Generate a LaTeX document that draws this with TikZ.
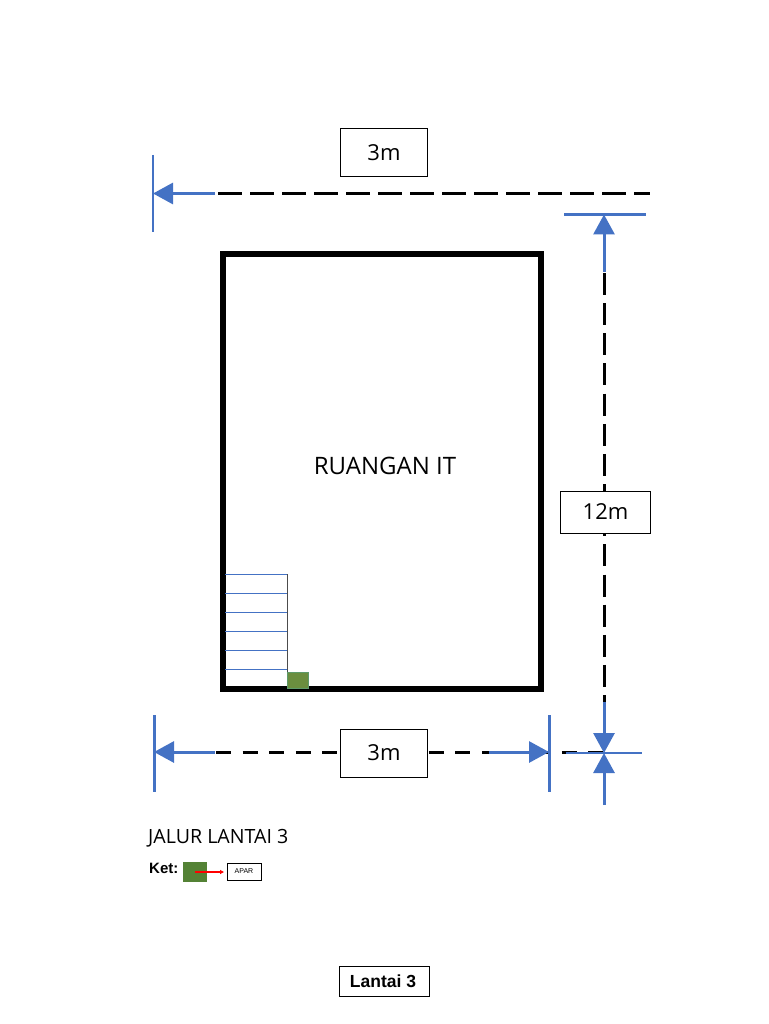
\documentclass[tikz,border=0pt]{standalone}
\usepackage{fontspec}
\setmainfont{Open Sans}
\newfontfamily\arialfont{Liberation Sans}
\usetikzlibrary{arrows.meta}
\definecolor{dimblue}{HTML}{4472C4}
\definecolor{aparfill}{HTML}{6B8E3F}
\definecolor{aparline}{HTML}{5E9A6A}
\definecolor{ketfill}{HTML}{548235}
\tikzset{
	dimbox/.style={draw,line width=1pt,fill=white,inner sep=0pt,font=\fontsize{22}{24}\selectfont},
	dimarrow/.style={draw=dimblue,line width=3pt,-{Triangle[length=20pt,width=21pt,fill=dimblue]}},
	dimtick/.style={draw=dimblue,line width=3pt},
	dimdash/.style={draw,line width=3pt,dash pattern=on 23.5pt off 8.5pt},
	stairline/.style={draw=dimblue,line width=.8pt}
}
\begin{document}
\begin{tikzpicture}[x=1pt,y=-1pt]
	\useasboundingbox (0,0) rectangle (768,1024);
	\node [draw,line width=5.5pt,minimum width=318pt,minimum height=435pt,inner sep=0pt] (room) at (382,471.5) {};
	\node [font=\fontsize{24}{26}\selectfont] (ruangan) at (385,466) {RUANGAN IT};

	% stairs
	\foreach \i/\y in {1/574,2/593,3/612,4/631,5/650,6/669} {
		\coordinate (sl\i) at (225,\y);
		\coordinate (sr\i) at (287,\y);
		\draw [stairline] (sl\i) -- (sr\i);
	}
	\coordinate (sb) at (287,687);
	\draw [line width=1pt,draw=black!70] (sr1) -- (sb);
	\node [draw=aparline,line width=.6pt,fill=aparfill,minimum width=21pt,minimum height=16pt,inner sep=0pt] (apar) at (298,680) {};

	% top
	\node [dimbox,minimum width=87pt,minimum height=48pt] (topbox) at (384,152.5) {3m};
	\coordinate (ta) at (153,155);
	\coordinate (tb) at (153,232);
	\coordinate (tc) at (153,193.5);
	\coordinate (td) at (215,193.5);
	\coordinate (te) at (218,193.5);
	\coordinate (tf) at (650,193.5);
	\draw [dimtick,line width=2pt] (ta) -- (tb);
	\draw [dimdash] (te) -- (tf);
	\draw [dimarrow] (td) -- (tc);

	% right
	\coordinate (ra) at (564,214.5);
	\coordinate (rb) at (646,214.5);
	\coordinate (rc) at (604,214.5);
	\coordinate (rd) at (604,272);
	\coordinate (rk) at (604,273);
	\coordinate (re) at (604,710);
	\coordinate (rf) at (604,702);
	\coordinate (rg) at (604,753);
	\coordinate (rh) at (604,805);
	\coordinate (ri) at (566,753);
	\coordinate (rj) at (642,753);
	\draw [dimdash,dash pattern=on 22pt off 8.15pt] (rk) -- (re);
	\draw [dimtick] (ra) -- (rb);
	\draw [dimarrow] (rd) -- (rc);
	\node [dimbox,minimum width=90pt,minimum height=42pt] (rightbox) at (605.5,512) {12m};

	% bottom
	\coordinate (ba) at (154,715);
	\coordinate (bb) at (154,792);
	\coordinate (bc) at (154,752);
	\coordinate (bd) at (215,752);
	\coordinate (be) at (489,752);
	\coordinate (bf) at (549,752);
	\coordinate (bg) at (549,715);
	\coordinate (bh) at (549,792);
	\coordinate (bi) at (216,752);
	\coordinate (bj) at (604,752);
	\draw [dimdash,dash pattern=on 15pt off 11.6pt] (bi) -- (bj);
	\draw [dimtick] (ba) -- (bb);
	\draw [dimtick] (bg) -- (bh);
	\draw [dimarrow] (bd) -- (bc);
	\draw [dimarrow] (be) -- (bf);
	\draw [dimtick,line width=2.5pt] (ri) -- (rj);
	\draw [dimarrow] (rf) -- (rg);
	\draw [dimarrow] (rh) -- (rg);
	\node [dimbox,minimum width=87pt,minimum height=48pt] (bottombox) at (384,753) {3m};

	% legend
	\node [anchor=west,inner sep=0pt,font=\fontsize{19.6}{22}\selectfont] (jalur) at (148,838) {JALUR LANTAI 3};
	\node [anchor=west,inner sep=0pt,font=\arialfont\bfseries\fontsize{15}{17}\selectfont] (ket) at (149,868) {Ket:};
	\node [fill=ketfill,minimum width=24pt,minimum height=20pt,inner sep=0pt] (ketbox) at (195,872) {};
	\node [draw,line width=.8pt,minimum width=34pt,minimum height=17pt,inner sep=0pt,font=\arialfont\fontsize{7}{8}\selectfont] (aparbox) at (244,871.5) {APAR};
	\coordinate (redend) at (224,872);
	\draw [red,line width=2.5pt,-{Triangle[length=4pt,width=4pt]}] (ketbox.center) -- (redend);

	\node [draw,line width=1pt,minimum width=90pt,minimum height=30pt,inner sep=0pt,font=\arialfont\bfseries\fontsize{17.5}{19}\selectfont] (lantai) at (384,981) {\hspace{-2pt}Lantai 3};
\end{tikzpicture}
\end{document}
